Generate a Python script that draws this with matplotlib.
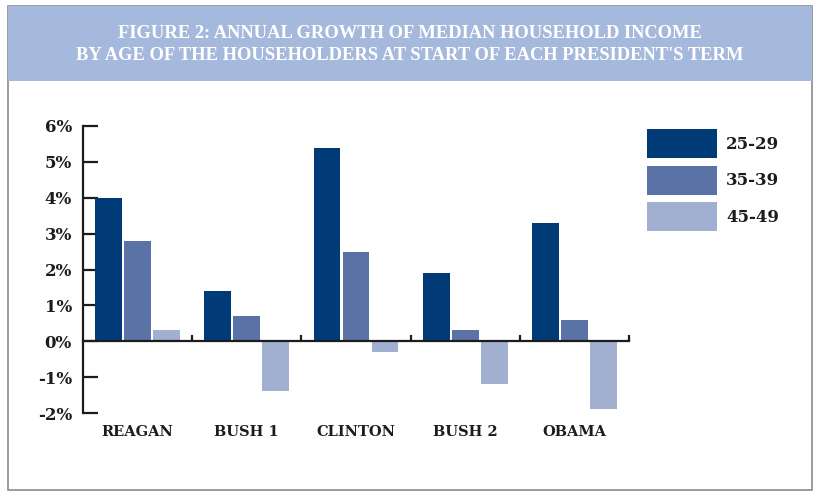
import numpy as np
import matplotlib
matplotlib.use('Agg')
import matplotlib.pyplot as plt
from matplotlib.patches import Rectangle, Patch

presidents = ['REAGAN', 'BUSH 1', 'CLINTON', 'BUSH 2', 'OBAMA']
age_groups = ['25-29', '35-39', '45-49']
growth_25_29 = [4.0, 1.4, 5.4, 1.9, 3.3]
growth_35_39 = [2.8, 0.7, 2.5, 0.3, 0.6]
growth_45_49 = [0.3, -1.4, -0.3, -1.2, -1.9]
yticks = [-2, -1, 0, 1, 2, 3, 4, 5, 6]
ytick_labels = ['-2%', '-1%', '0%', '1%', '2%', '3%', '4%', '5%', '6%']

colors = ['#003b78', '#5a72a5', '#a1afd1']
band = '#a5b9dc'
ink = '#1c1c1c'
serif = 'DejaVu Serif'

W, H = 825, 500
fig = plt.figure(figsize=(W / 100, H / 100), dpi=100)

# outer frame + title band (behind the axes)
fig.patches.append(Rectangle((8 / W, 1 - 490 / H), 804 / W, 484 / H, transform=fig.transFigure,
                             facecolor='white', edgecolor='#8a8a8a', lw=1.2, zorder=-2))
fig.patches.append(Rectangle((8 / W, 1 - 81 / H), 804 / W, 75 / H, transform=fig.transFigure,
                             facecolor=band, edgecolor='none', zorder=-1))
fig.text(410 / W, 1 - 33 / H, 'FIGURE 2: ANNUAL GROWTH OF MEDIAN HOUSEHOLD INCOME',
         ha='center', va='center', color='white', fontsize=13.3, fontweight='bold',
         family='Liberation Serif')
fig.text(410 / W, 1 - 55 / H, "BY AGE OF THE HOUSEHOLDERS AT START OF EACH PRESIDENT'S TERM",
         ha='center', va='center', color='white', fontsize=13.3, fontweight='bold',
         family='Liberation Serif')

ax = fig.add_axes([83 / W, 1 - 413 / H, 546 / W, 287 / H])
ax.set_facecolor('none')

x = np.arange(len(presidents)) + 0.5
step, bw = 0.265, 0.245
series = [growth_25_29, growth_35_39, growth_45_49]
for k, vals in enumerate(series):
    ax.bar(x + (k - 1) * step, vals, width=bw, color=colors[k], edgecolor='none', zorder=2)

ax.set_xlim(0, len(presidents))
ax.set_ylim(-2, 6)

for s in ['top', 'right']:
    ax.spines[s].set_visible(False)
ax.spines['bottom'].set_position(('data', 0))
for s in ['left', 'bottom']:
    ax.spines[s].set_linewidth(1.6)
    ax.spines[s].set_color(ink)
    ax.spines[s].set_zorder(3)

ax.set_yticks(yticks)
ax.set_yticklabels(ytick_labels, family=serif, fontweight='bold', fontsize=12, color=ink)
ax.tick_params(axis='y', direction='in', length=11, width=1.6, color=ink, pad=8)
ax.set_xticks(np.arange(1, len(presidents) + 1))
ax.set_xticklabels([])
ax.tick_params(axis='x', direction='in', length=4.5, width=1.6, color=ink)

for xi, name in zip(x, presidents):
    ax.text(xi, -2.53, name, ha='center', va='center', family=serif, fontweight='bold',
            fontsize=10.5, color=ink, clip_on=False)

handles = [Patch(facecolor=c, edgecolor='none') for c in colors]
leg = ax.legend(handles, age_groups, loc='upper left', bbox_to_anchor=(647 / W, 1 - 129 / H),
                bbox_transform=fig.transFigure, frameon=False, borderpad=0, borderaxespad=0,
                handlelength=4.2, handleheight=2.3, handletextpad=0.55, labelspacing=0.45,
                prop={'family': serif, 'weight': 'bold', 'size': 12})
for t in leg.get_texts():
    t.set_color(ink)

fig.savefig('out.png', dpi=100)
